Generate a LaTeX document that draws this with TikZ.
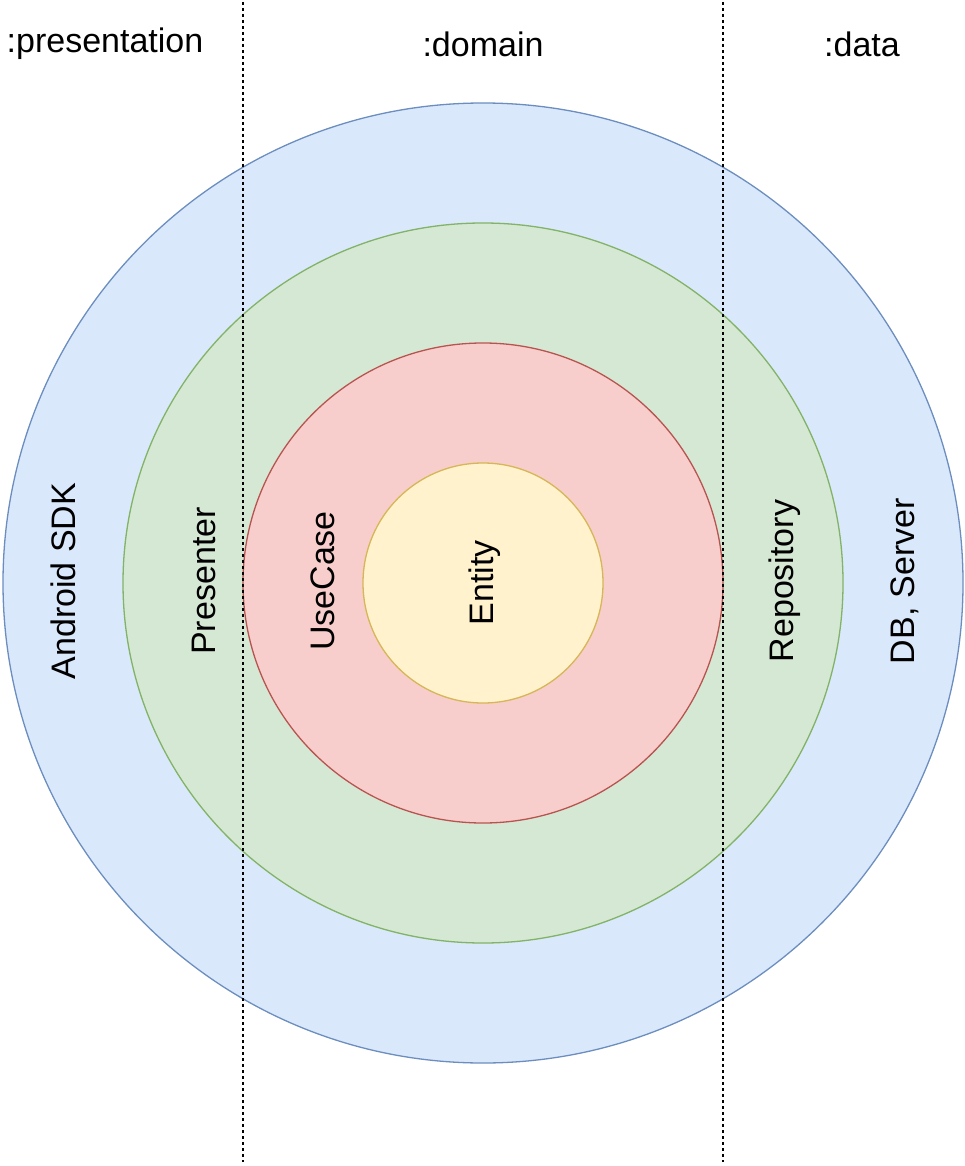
\documentclass[tikz,border=0pt]{standalone}
\usepackage{fontspec}
\setmainfont{Liberation Sans}
\begin{document}
\begin{tikzpicture}[x=1pt,y=-1pt,
  ring/.style={draw,line width=1.3pt},
  lbl/.style={font=\fontsize{34}{40}\selectfont,inner sep=0},
  rlbl/.style={lbl,rotate=90},
  sep/.style={dashed,line width=1.3pt}]
\useasboundingbox (0,0) rectangle (964,1166);
\definecolor{bF}{HTML}{DAE8FC}\definecolor{bS}{HTML}{6C8EBF}
\definecolor{gF}{HTML}{D5E8D4}\definecolor{gS}{HTML}{82B366}
\definecolor{rF}{HTML}{F8CECC}\definecolor{rS}{HTML}{B85450}
\definecolor{yF}{HTML}{FFF2CC}\definecolor{yS}{HTML}{D6B656}
\draw[ring,fill=bF,draw=bS] (483,583) circle (480);
\draw[ring,fill=gF,draw=gS] (483,583) circle (360);
\draw[ring,fill=rF,draw=rS] (483,583) circle (240);
\draw[ring,fill=yF,draw=yS] (483,583) circle (120);
\coordinate (l1) at (243,2); \coordinate (l2) at (243,1162);
\coordinate (r1) at (723,2); \coordinate (r2) at (723,1162);
\draw[sep] (l1) -- (l2);
\draw[sep] (r1) -- (r2);
\node[lbl] (p) at (105,44) {:presentation};
\node[lbl] (d) at (483,44) {:domain};
\node[lbl] (da) at (862,44) {:data};
\node[rlbl] (a) at (63,581) {Android SDK};
\node[rlbl] (pr) at (204,581) {Presenter};
\node[rlbl] (u) at (323,581) {UseCase};
\node[rlbl] (e) at (485,583) {Entity};
\node[rlbl] (re) at (785,581) {Repository};
\node[rlbl] (db) at (905,581) {DB, Server};
\end{tikzpicture}
\end{document}
